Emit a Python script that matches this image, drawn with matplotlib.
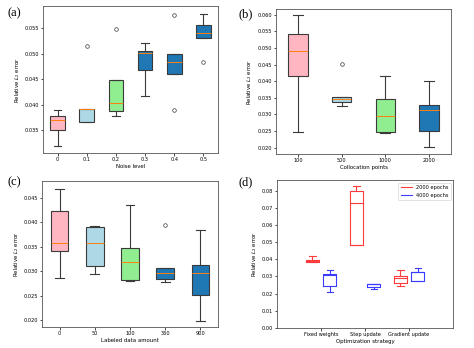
import matplotlib
matplotlib.use("Agg")
import matplotlib.pyplot as plt
from matplotlib.lines import Line2D

# ---------------- data: box statistics per panel ----------------
noise_levels = ["0", "0.1", "0.2", "0.3", "0.4", "0.5"]
noise_whislo = [0.0320, 0.0366, 0.0378, 0.0418, 0.0460, 0.0531]
noise_q1     = [0.0350, 0.0367, 0.0388, 0.0468, 0.0460, 0.0531]
noise_med    = [0.0370, 0.0392, 0.0404, 0.0502, 0.0484, 0.0541]
noise_q3     = [0.0379, 0.0392, 0.0448, 0.0506, 0.0499, 0.0555]
noise_whishi = [0.0390, 0.0392, 0.0448, 0.0521, 0.0499, 0.0577]
noise_fliers = [[], [0.0515], [0.0549], [], [0.0575, 0.0389], [0.0483]]

colloc_points = ["100", "500", "1000", "2000"]
colloc_whislo = [0.0248, 0.0324, 0.0243, 0.0202]
colloc_q1     = [0.0416, 0.0337, 0.0248, 0.0249]
colloc_med    = [0.0491, 0.0347, 0.0295, 0.0313]
colloc_q3     = [0.0542, 0.0351, 0.0345, 0.0329]
colloc_whishi = [0.0599, 0.0351, 0.0415, 0.0401]
colloc_fliers = [[], [0.0452], [], []]

labeled_amount = ["0", "50", "100", "360", "900"]
labeled_whislo = [0.0285, 0.0295, 0.0279, 0.0277, 0.0199]
labeled_q1     = [0.0342, 0.0311, 0.0281, 0.0284, 0.0251]
labeled_med    = [0.0358, 0.0357, 0.0318, 0.0297, 0.0297]
labeled_q3     = [0.0423, 0.0391, 0.0348, 0.0307, 0.0313]
labeled_whishi = [0.0468, 0.0393, 0.0434, 0.0307, 0.0383]
labeled_fliers = [[], [], [], [0.0395], []]

strategies = ["Fixed weights", "Step update", "Gradient update"]
ep2000_whislo = [0.0382, 0.0483, 0.0243]
ep2000_q1     = [0.0382, 0.0483, 0.0265]
ep2000_med    = [0.0389, 0.0730, 0.0294]
ep2000_q3     = [0.0395, 0.0800, 0.0304]
ep2000_whishi = [0.0417, 0.0829, 0.0339]
ep4000_whislo = [0.0210, 0.0226, 0.0273]
ep4000_q1     = [0.0247, 0.0236, 0.0273]
ep4000_med    = [0.0310, 0.0259, 0.0329]
ep4000_q3     = [0.0317, 0.0259, 0.0329]
ep4000_whishi = [0.0335, 0.0259, 0.0350]

TICK_FS = 3.6
LABEL_FS = 3.9
EDGE = "#3a3a3a"
FILLS = ["#ffb6c1", "#add8e6", "#90ee90", "#1f77b4", "#1f77b4", "#1f77b4"]


def make_stats(lo, q1, med, q3, hi, fliers=None):
    out = []
    for i in range(len(med)):
        out.append(dict(whislo=lo[i], q1=q1[i], med=med[i], q3=q3[i],
                        whishi=hi[i], fliers=(fliers[i] if fliers else [])))
    return out


def filled_panel(ax, stats, labels, widths, xlabel, ylim, yticks):
    bp = ax.bxp(stats, widths=widths, patch_artist=True, showfliers=True,
                boxprops=dict(edgecolor=EDGE, linewidth=0.8),
                whiskerprops=dict(color=EDGE, linewidth=0.8),
                capprops=dict(color=EDGE, linewidth=0.8),
                medianprops=dict(color="#ff7f0e", linewidth=0.7),
                flierprops=dict(marker="o", markersize=2.6, markerfacecolor="none",
                                markeredgecolor=EDGE, markeredgewidth=0.5))
    for patch, c in zip(bp["boxes"], FILLS):
        patch.set_facecolor(c)
    ax.set_xticks(range(1, len(labels) + 1))
    ax.set_xticklabels(labels)
    ax.set_ylim(*ylim)
    ax.set_yticks(yticks)
    ax.set_xlabel(xlabel, fontsize=LABEL_FS, labelpad=1.5)
    ax.set_ylabel(r"Relative $L_2$ error", fontsize=LABEL_FS, labelpad=2)


fig = plt.figure(figsize=(4.74, 3.48), dpi=100)
W, H = 474.0, 348.0


def add_ax(l, r, t, b):
    ax = fig.add_axes([l / W, (H - b) / H, (r - l) / W, (b - t) / H])
    ax.tick_params(labelsize=TICK_FS, length=1.8, width=0.5, pad=1.2)
    for s in ax.spines.values():
        s.set_linewidth(0.6)
        s.set_color("#555555")
    return ax


# (a) noise level
ax_a = add_ax(43, 218, 6, 153)
filled_panel(ax_a, make_stats(noise_whislo, noise_q1, noise_med, noise_q3,
                              noise_whishi, noise_fliers),
             noise_levels, 0.5, "Noise level", (0.0306, 0.0593),
             [0.035, 0.040, 0.045, 0.050, 0.055])

# (b) collocation points
ax_b = add_ax(276, 451, 9, 154)
filled_panel(ax_b, make_stats(colloc_whislo, colloc_q1, colloc_med, colloc_q3,
                              colloc_whishi, colloc_fliers),
             colloc_points, 0.45, "Collocation points", (0.0181, 0.0617),
             [0.020, 0.025, 0.030, 0.035, 0.040, 0.045, 0.050, 0.055, 0.060])

# (c) labeled data amount
ax_c = add_ax(42, 218, 181, 327)
filled_panel(ax_c, make_stats(labeled_whislo, labeled_q1, labeled_med, labeled_q3,
                              labeled_whishi, labeled_fliers),
             labeled_amount, 0.5, "Labeled data amount", (0.0186, 0.0484),
             [0.020, 0.025, 0.030, 0.035, 0.040, 0.045])

# (d) optimization strategy, two epoch settings side by side
ax_d = add_ax(277, 453, 180, 328)
centers = [2 * i for i in range(len(strategies))]


def outline_boxes(stats, pos, color):
    ax_d.bxp(stats, positions=pos, widths=0.6, showfliers=False,
             boxprops=dict(color=color, linewidth=0.8),
             whiskerprops=dict(color=color, linewidth=0.8),
             capprops=dict(color=color, linewidth=0.8),
             medianprops=dict(color=color, linewidth=0.8))


outline_boxes(make_stats(ep2000_whislo, ep2000_q1, ep2000_med, ep2000_q3, ep2000_whishi),
              [c - 0.4 for c in centers], "#ff3b3b")
outline_boxes(make_stats(ep4000_whislo, ep4000_q1, ep4000_med, ep4000_q3, ep4000_whishi),
              [c + 0.4 for c in centers], "#3b3bff")
ax_d.set_xticks(centers)
ax_d.set_xticklabels(strategies)
ax_d.set_xlim(-2, 2 * len(strategies))
ax_d.set_ylim(0, 0.0862)
ax_d.set_yticks([0.00, 0.01, 0.02, 0.03, 0.04, 0.05, 0.06, 0.07, 0.08])
ax_d.set_xlabel("Optimization strategy", fontsize=LABEL_FS, labelpad=1.5)
ax_d.set_ylabel(r"Relative $L_2$ error", fontsize=LABEL_FS, labelpad=2)
handles = [Line2D([], [], color="#ff3b3b", lw=0.8),
           Line2D([], [], color="#3b3bff", lw=0.8)]
leg = ax_d.legend(handles, ["2000 epochs", "4000 epochs"], loc="upper right",
                  fontsize=TICK_FS, handlelength=2.2, borderpad=0.5,
                  labelspacing=0.5, framealpha=1)
leg.get_frame().set_linewidth(0.4)

# panel letters
for txt, x, y in [("(a)", 7, 13), ("(b)", 239, 14), ("(c)", 7, 182), ("(d)", 239, 182)]:
    fig.text(x / W, 1 - y / H, txt, family="Liberation Serif", fontsize=9,
             va="center", ha="left")

fig.savefig("out.png", dpi=100)
